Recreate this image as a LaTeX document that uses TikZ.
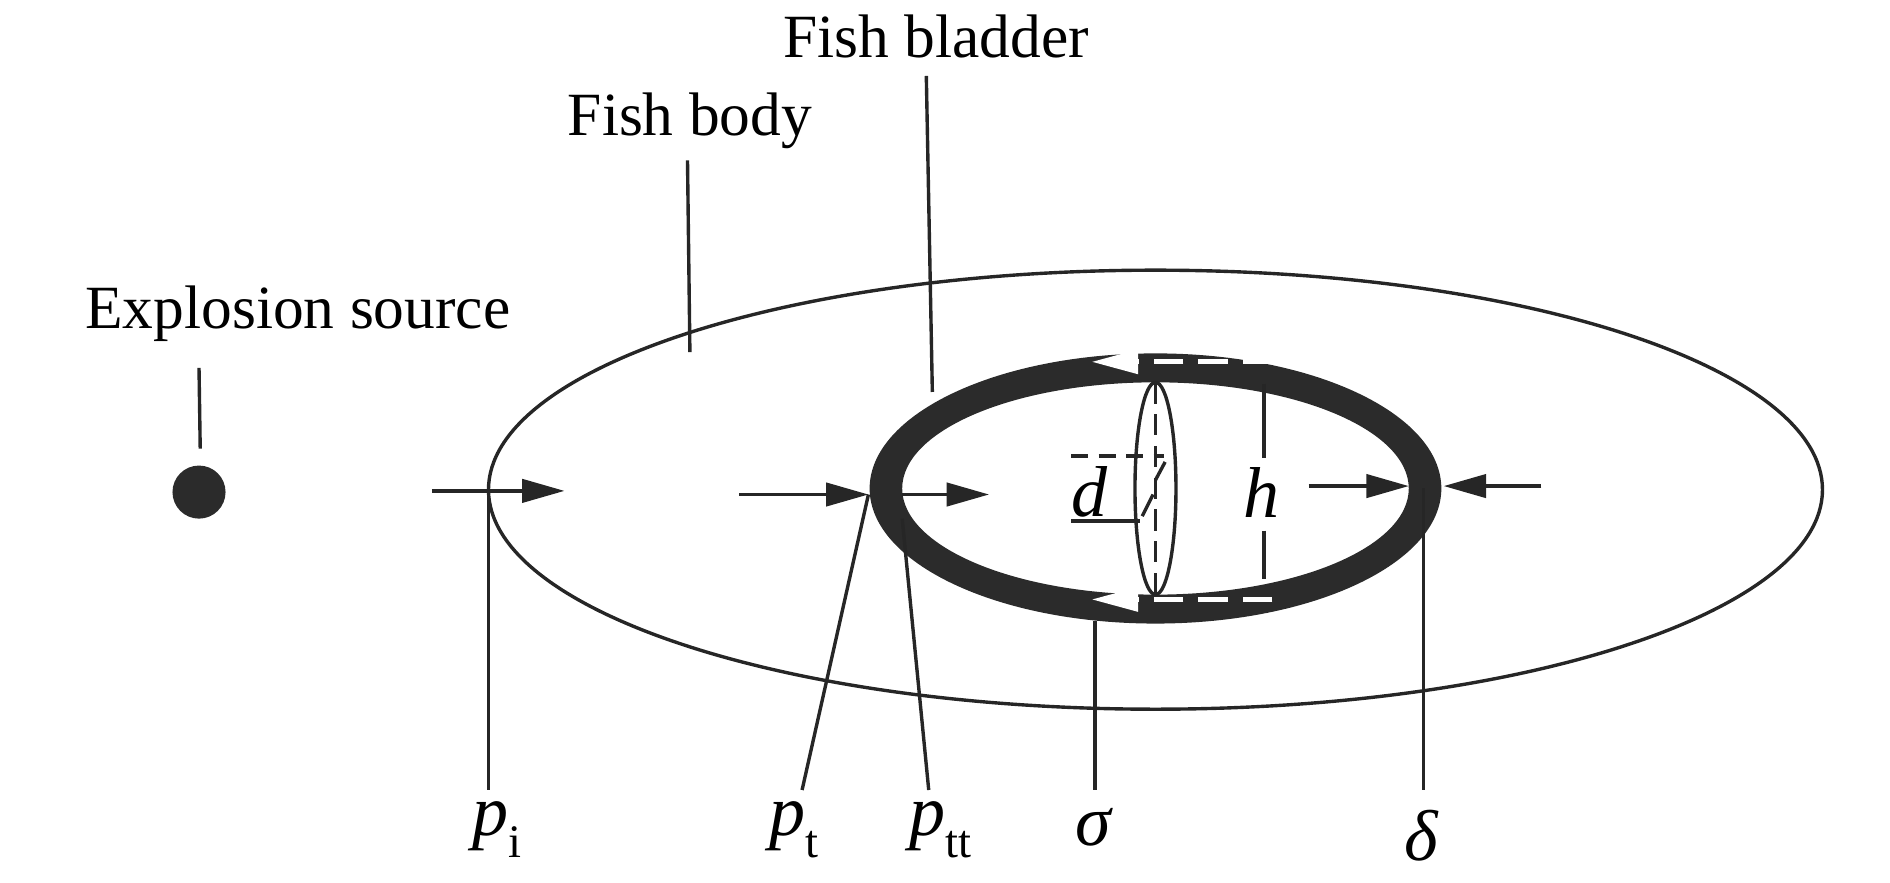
\documentclass[tikz,border=0pt]{standalone}
\usepackage{fontspec}
\setmainfont{Liberation Serif}
\usetikzlibrary{arrows.meta}
\newcommand{\sub}[2]{\textit{#1}\raisebox{-0.3em}{\fontsize{22}{24}\selectfont #2}}
\begin{document}
\begin{tikzpicture}[x=0.02cm,y=-0.02cm,
  ln/.style={line width=1.6pt,black!85},
  ar/.style={ln,-{Triangle[length=20pt,width=11pt]}},
  war/.style={white,line width=2.5pt,dash pattern=on 14pt off 7pt,-{Triangle[length=22pt,width=11pt]}},
  lab/.style={font=\fontsize{29}{31}\selectfont},
  mlab/.style={font=\fontsize{34}{36}\selectfont\itshape}]
\useasboundingbox (0,0) rectangle (1567,732);
\definecolor{dk}{HTML}{2B2B2B}
% fish body
\draw[ln] (958,406) ellipse [x radius=553, y radius=182];
% bladder ring
\fill[dk,even odd rule] (958,405) ellipse [x radius=237, y radius=112] (958,405) ellipse [x radius=210, y radius=88];
\draw[ln] (958,405) ellipse [x radius=17, y radius=88];
\draw[ln,dash pattern=on 10pt off 5pt] (958,317) -- (958,493);
\coordinate (ta) at (1055,300); \coordinate (tb) at (905,300);
\coordinate (ba) at (1055,497); \coordinate (bb) at (905,497);
\draw[war] (ta) -- (tb);
\draw[war] (ba) -- (bb);
% source
\fill[dk] (165,408) circle (22);
\node[lab] (es) at (247,260) {Explosion source};
\draw[ln] (165,305) -- (166,372);
\node[lab] (fb) at (572,100) {Fish body};
\draw[ln] (570,133) -- (572,292);
\node[lab] (fbl) at (776,30) {Fish bladder};
\draw[ln] (768,63) -- (773,325);
% d
\draw[ln,dash pattern=on 8pt off 5pt] (888,378) -- (965,378);
\draw[ln] (888,432) -- (945,432);
\draw[ln] (966,383) -- (958,398);
\draw[ln] (956,410) -- (947,428);
\node[mlab] (d) at (903,408) {d};
% h
\draw[ln] (1048,318) -- (1048,380);
\node[mlab] (h) at (1046,408) {h};
\draw[ln] (1048,440) -- (1048,480);
% arrows
\coordinate (a1) at (358,407); \coordinate (a2) at (468,407);
\coordinate (b1) at (613,410); \coordinate (b2) at (720,410);
\coordinate (c1) at (748,410); \coordinate (c2) at (820,410);
\coordinate (e1) at (1085,403); \coordinate (e2) at (1168,403);
\coordinate (f1) at (1278,403); \coordinate (f2) at (1197,403);
\draw[ar] (a1) -- (a2);
\draw[ar] (b1) -- (b2);
\draw[ar] (c1) -- (c2);
\draw[ar] (e1) -- (e2);
\draw[ar] (f1) -- (f2);
% labels
\node[font=\fontsize{34}{36}\selectfont] (pi) at (412,688) {\sub{p}{i}};
\node[font=\fontsize{34}{36}\selectfont] (pt) at (658,688) {\sub{p}{t}};
\node[font=\fontsize{34}{36}\selectfont] (ptt) at (780,688) {\sub{p}{tt}};
\node[mlab] (sg) at (906,686) {σ};
\node[mlab] (dl) at (1178,693) {δ};
\draw[ln] (405,410) -- (405,655);
\draw[ln] (720,410) -- (665,655);
\draw[ln] (748,430) -- (770,655);
\draw[ln] (908,515) -- (908,655);
\draw[ln] (1180,405) -- (1180,655);
\end{tikzpicture}
\end{document}
